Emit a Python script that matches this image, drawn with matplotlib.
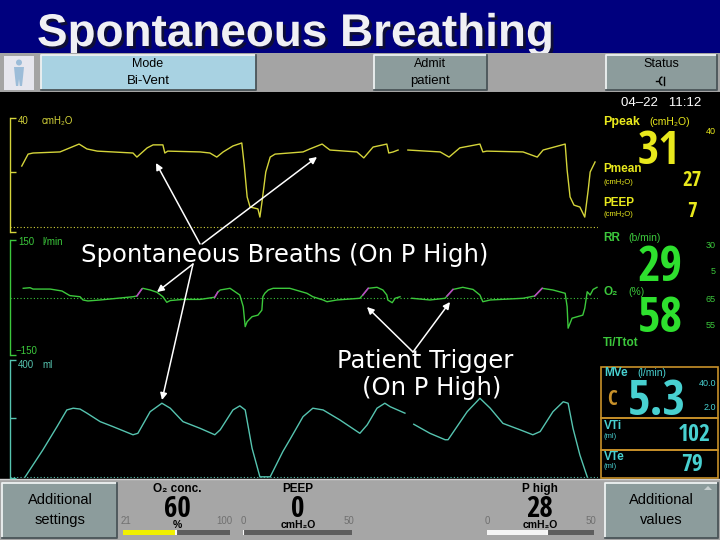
import numpy as np
import matplotlib
matplotlib.use('Agg')
import matplotlib.pyplot as plt
from matplotlib.patches import Rectangle, Circle, Arc, Polygon
import matplotlib.patheffects as pe
from matplotlib import font_manager as fm

# Airway pressure (cmH2O) vs time (s); NaN marks the sweep refresh gap
p_time = [0.24, 0.37, 0.47, 1.02, 1.41, 1.57, 1.78, 2.51, 2.59, 2.80, 2.92, 3.12, 3.16, 3.22,
          3.88, 4.08, 4.22, 4.35, 4.55, 4.73, 4.78, 4.84, 4.90, 5.06, 5.10, 5.14, 5.22, 5.31,
          5.41, 5.98, 6.12, 6.37, 6.47, 6.53, 7.08, 7.22, 7.41, 7.69, 7.73, 7.82, 7.92, 8.02,
          8.12, 8.78, 8.96, 9.18, 9.59, 9.65, 9.73, 10.47, 10.76, 10.88, 11.33, 11.37, 11.43,
          11.51, 11.63, 11.73, 11.80, 11.84, 11.94]
p_val = [22.3, 26.7, 27.1, 27.5, 30.4, 28.6, 27.8, 27.1, 25.6, 29.0, 30.1, 30.1, 27.1, 27.8,
         27.5, 27.1, 25.6, 27.5, 29.7, 30.8, 22.7, 10.9, 7.2, 6.5, 3.5, 8.7, 20.1, 25.6,
         26.7, 27.5, 28.6, 30.4, 29.0, 28.2, 27.5, 25.3, 29.3, 30.4, 27.1, 27.5, 28.2, np.nan,
         28.2, 27.5, 25.6, 29.0, 30.4, 27.5, 27.8, 27.5, 25.6, 28.2, 30.4, 20.8, 10.9,
         7.9, 7.2, 3.5, 13.5, 20.1, 23.8]

# Flow (l/min) vs time (s)
f_time = [0.27, 0.41, 0.47, 0.82, 1.06, 1.22, 1.43, 1.49, 1.59, 1.84, 2.51, 2.59, 2.69, 2.71,
          2.86, 3.00, 3.12, 3.20, 3.27, 3.53, 3.88, 4.14, 4.18, 4.24, 4.29, 4.49, 4.69, 4.76,
          4.80, 4.84, 4.94, 5.06, 5.14, 5.16, 5.20, 5.27, 5.37, 5.71, 6.06, 6.18, 6.39, 6.47,
          6.67, 7.14, 7.20, 7.31, 7.49, 7.61, 7.69, 7.71, 7.80, 7.86, 7.96, 8.08, 8.20, 8.57,
          8.88, 8.92, 9.04, 9.24, 9.45, 9.59, 9.65, 9.80, 10.47, 10.71, 10.86, 11.08, 11.33,
          11.37, 11.39, 11.47, 11.69, 11.73, 11.78, 11.84, 11.90, 11.98]
f_val = [24, 25.6, 22, 22, 17, 5, 2, -6.5, -9, -6.5, 2, 4, 22, 24,
         19.6, 13.6, 2, -12.5, -8, -5, -5, 0, 1, 14, 19.6, 24, 6.5, -24,
         -76, -63, -50, -46, -33, 2, 11, 19.6, 24, 24, 11, 2, -6.5, -11,
         -6.5, -2, 6.5, 24, 26.6, 19.6, 6.5, -6.5, -13.6, -2, 2, np.nan, -2, -6.5,
         -2, 4, 21, 26.6, 21, 6.5, -11, -6.5, -2, 4, 24, 19.6, 11,
         -24, -80, -54, -46, -28, 15, 6.5, 21, 26.6]
# patient-triggered breath onsets (start, end in s), shown in magenta
trig_start = [2.59, 4.18, 7.20, 8.92, 10.71]
trig_end = [2.69, 4.24, 7.31, 9.04, 10.86]

# Volume (ml) vs time (s)
v_time = [0.31, 0.67, 0.96, 1.16, 1.29, 1.43, 1.57, 1.84, 2.10, 2.51, 2.61, 2.86, 3.10, 3.27,
          3.53, 3.88, 4.18, 4.29, 4.55, 4.69, 4.80, 4.94, 5.10, 5.31, 5.57, 5.71, 5.98, 6.18,
          6.39, 6.73, 7.14, 7.29, 7.49, 7.65, 7.76, 8.06, 8.15, 8.24, 8.57, 8.88, 8.94, 9.33,
          9.59, 9.80, 10.06, 10.41, 10.67, 10.82, 11.08, 11.29, 11.39, 11.49, 11.63, 11.78]
v_val = [0, 92, 172, 229, 235, 232, 218, 189, 172, 144, 149, 223, 252, 235,
         189, 166, 144, 161, 229, 243, 229, 98, 0, 0, 87, 127, 206, 235,
         229, 195, 149, 178, 235, 252, 240, 218, np.nan, 180, 149, 127, 127, 223,
         269, 235, 183, 161, 144, 155, 223, 257, 252, 166, 75, 0]

# Monitored values (right column)
ppeak, ppeak_hi = 31, 40
pmean, peep_meas = 27, 7
rr, rr_hi, rr_lo = 29, 30, 5
o2, o2_hi, o2_lo = 58, 65, 55
mve, mve_hi, mve_lo = 5.3, 40.0, 2.0
vti, vte = 102, 79

# Settings (bottom bar)
set_names = ['O\u2082 conc.', 'PEEP', 'P high']
set_vals = [60, 0, 28]
set_min = [21, 0, 0]
set_max = [100, 50, 50]
set_units = ['%', 'cmH\u2082O', 'cmH\u2082O']

# ---------------- fonts ----------------
W, H = 720, 540
SANS = ['Liberation Sans', 'DejaVu Sans']
VERD = ['DejaVu Sans']


def find_narrow():
    best, best_score = None, -1
    for f in fm.fontManager.ttflist:
        nm = f.name.lower()
        st = str(f.stretch).lower()
        if not ('narrow' in nm or 'condensed' in nm or 'condensed' in st):
            continue
        if 'mono' in nm or ('serif' in nm and 'sans' not in nm):
            continue
        w = f.weight
        if not isinstance(w, (int, float)):
            w = {'bold': 700, 'normal': 400, 'regular': 400}.get(str(w).lower(), 400)
        score = 0
        if 600 <= w <= 800:
            score += 4
        if str(f.style).lower() == 'normal':
            score += 2
        if 'liberation' in nm or 'roboto' in nm or 'open sans' in nm or 'noto' in nm:
            score += 1
        if score > best_score:
            best, best_score = f, score
    return best


_nf = find_narrow()
if _nf is not None:
    NARROW_FP = fm.FontProperties(fname=_nf.fname)
    NSCALE = 0.92 if 'dejavu' in _nf.name.lower() else 1.0
else:
    NARROW_FP = fm.FontProperties(family=SANS, weight='bold')
    NSCALE = 0.82

YEL = '#e8e81c'
YEL_W = '#d4d43a'
GRN = '#2ee02e'
GRN_W = '#3cc83c'
TEAL = '#48d0d0'
TEAL_W = '#56c4b0'
ORG = '#c8912a'
MAG = '#c040c8'

fig = plt.figure(figsize=(7.2, 5.4), dpi=100, facecolor='black')


def fbox(x0, y0, x1, y1):
    return [x0 / W, 1 - y1 / H, (x1 - x0) / W, (y1 - y0) / H]


bg = fig.add_axes([0, 0, 1, 1], zorder=0)
bg.set_xlim(0, W)
bg.set_ylim(H, 0)
bg.axis('off')


def rect(ax, x0, y0, x1, y1, fc, ec='none', lw=0, z=1):
    ax.add_patch(Rectangle((x0, y0), x1 - x0, y1 - y0, facecolor=fc,
                           edgecolor=ec, linewidth=lw, zorder=z))


def button(ax, x0, y0, x1, y1, fc):
    rect(ax, x0, y0, x1, y1, fc, z=3)
    ax.plot([x0, x0, x1], [y1, y0, y0], color='#eef2f2', lw=1.3, zorder=4)
    ax.plot([x0, x1, x1], [y1, y1, y0], color='#4a5458', lw=1.3, zorder=4)


# background blocks
rect(bg, 0, 0, W, H, 'black', z=0)
rect(bg, 0, 0, W, 53, '#00007e', z=1)
bg.text(37, 46, 'Spontaneous Breathing', fontsize=33, fontweight='bold', family=SANS,
        color='#f0f0f4', va='baseline', ha='left', zorder=2,
        path_effects=[pe.withSimplePatchShadow(offset=(2, -2), shadow_rgbFace='#101030', alpha=0.9)])
rect(bg, 0, 53, W, 92, '#a4a4a4', z=2.5)

# top buttons
rect(bg, 4, 56, 34, 90, '#e6e6ee', z=3)
bg.add_patch(Circle((19, 62.5), 3.0, facecolor='#9cbcd8', zorder=4))
bg.add_patch(Polygon([[14, 67], [24, 67], [23, 77], [22, 86], [19.8, 86], [19, 79],
                      [18.2, 86], [16, 86], [15, 77]], closed=True, facecolor='#9cbcd8', zorder=4))
button(bg, 41, 55, 256, 90, '#a8d2e2')
button(bg, 374, 55, 487, 90, '#8c9c9c')
button(bg, 606, 55, 717, 90, '#8c9c9c')

# bottom bar
rect(bg, 0, 479, W, H, '#a6a6a6', z=1)
bg.plot([0, W], [479, 479], color='#d0d0d0', lw=1, zorder=2)
button(bg, 2, 483, 117, 538, '#8c9c9c')
button(bg, 605, 483, 718, 538, '#8c9c9c')
bg.add_patch(Polygon([[704, 490], [712, 490], [708, 486]], closed=True,
                     facecolor='#c8d0d0', zorder=5))

# orange boxes on the right
for (y0, y1) in [(367, 418), (418, 450), (450, 478)]:
    rect(bg, 601, y0, 718, y1, 'none', ec=ORG, lw=1.2, z=3)

# ---------------- waveform panels ----------------


def wave_axes(y0, y1, ylim, color, ticks):
    ax = fig.add_axes(fbox(10, y0, 598, y1), zorder=2)
    ax.set_facecolor('none')
    ax.set_xlim(0, 12)
    ax.set_ylim(*ylim)
    for s in ['top', 'right', 'bottom']:
        ax.spines[s].set_visible(False)
    ax.spines['left'].set_color(color)
    ax.spines['left'].set_linewidth(1.0)
    ax.set_xticks([])
    ax.set_yticks(ticks)
    ax.set_yticklabels([])
    ax.tick_params(axis='y', direction='in', length=4, width=1, color=color)
    ax.axhline(0, color=color, ls=(0, (1, 2)), lw=0.8)
    return ax


axp = wave_axes(118, 232, (-2, 40), YEL_W, [-2, 20, 40])
axp.plot(p_time, p_val, color=YEL_W, lw=1.0)

axf = wave_axes(240, 355, (-150, 150), GRN_W, [-150, 150])
axf.plot(f_time, f_val, color=GRN_W, lw=1.0)
ft = np.array(f_time)
fv = np.array(f_val, dtype=float)
for s, e in zip(trig_start, trig_end):
    m = (ft >= s - 1e-9) & (ft <= e + 1e-9)
    axf.plot(ft[m], fv[m], color=MAG, lw=1.1)

axv = wave_axes(360, 478, (-4, 400), TEAL_W, [-4, 200, 400])
axv.plot(v_time, v_val, color=TEAL_W, lw=1.0, clip_on=False)

# ---------------- overlay text ----------------
ov = fig.add_axes([0, 0, 1, 1], zorder=5)
ov.patch.set_visible(False)
ov.set_xlim(0, W)
ov.set_ylim(H, 0)
ov.axis('off')


def T(x, y, s, size, color, ha='left', va='center', weight='normal', fam=SANS, **kw):
    ov.text(x, y, s, fontsize=size, color=color, ha=ha, va=va, fontweight=weight,
            family=fam, **kw)


def N(x, y, s, size, color, ha='center'):
    fp = NARROW_FP.copy()
    fp.set_size(size * NSCALE)
    ov.text(x, y, s, fontproperties=fp, color=color, ha=ha, va='baseline')


# top buttons text
T(148, 64, 'Mode', 9, 'black', ha='center')
T(148, 81, 'Bi-Vent', 9.5, 'black', ha='center')
T(430, 64, 'Admit', 9, 'black', ha='center')
T(430, 81, 'patient', 9.5, 'black', ha='center')
T(661, 64, 'Status', 9, 'black', ha='center')
ov.plot([656, 659], [81, 81], color='black', lw=1)
ov.add_patch(Arc((662.5, 81), 6, 8, theta1=90, theta2=270, color='black', lw=1))
ov.plot([664, 664], [77, 85], color='black', lw=1)

# waveform labels
T(18, 121, '40', 7, YEL_W)
T(42, 121, 'cmH\u2082O', 7, YEL_W)
T(18, 242, '150', 7, GRN_W)
T(42, 242, 'l/min', 7, GRN_W)
T(16, 351, '\u2212150', 7, GRN_W)
T(18, 365, '400', 7, TEAL_W)
T(42, 365, 'ml', 7, TEAL_W)

# right column (big numbers placed on their baselines)
T(661, 103, '04\u201322   11:12', 9.5, 'white', ha='center')
T(603, 122, 'Ppeak', 9, YEL, weight='bold')
T(649, 122, '(cmH\u2082O)', 7.5, YEL)
T(716, 132, str(ppeak_hi), 6.5, YEL, ha='right')
N(659, 164, str(ppeak), 33, YEL)
T(603, 169, 'Pmean', 8.5, YEL, weight='bold')
T(603, 182, '(cmH\u2082O)', 5.5, YEL)
N(692, 186, str(pmean), 15, YEL)
T(603, 203, 'PEEP', 8.5, YEL, weight='bold')
T(603, 215, '(cmH\u2082O)', 5.5, YEL)
N(692, 217, str(peep_meas), 15, YEL)
T(603, 238, 'RR', 8.5, GRN_W, weight='bold')
T(628, 238, '(b/min)', 7.5, GRN_W)
T(716, 246, str(rr_hi), 6.5, GRN_W, ha='right')
T(716, 271, str(rr_lo), 6.5, GRN_W, ha='right')
N(660, 281, str(rr), 35, GRN)
T(603, 292, 'O\u2082', 8.5, GRN_W, weight='bold')
T(628, 292, '(%)', 7.5, GRN_W)
T(716, 300, str(o2_hi), 6.5, GRN_W, ha='right')
T(716, 325, str(o2_lo), 6.5, GRN_W, ha='right')
N(660, 332, str(o2), 35, GRN)
T(603, 343, 'Ti/Ttot', 8.5, GRN_W, weight='bold')

T(604, 373, 'MVe', 8.5, TEAL, weight='bold')
T(637, 373, '(l/min)', 7.5, TEAL)
N(612, 405, 'C', 15, ORG)
N(657, 415, f'{mve:.1f}', 35, TEAL)
T(716, 383, f'{mve_hi:.1f}', 6.5, TEAL, ha='right')
T(716, 408, f'{mve_lo:.1f}', 6.5, TEAL, ha='right')
T(604, 426, 'VTi', 8.5, TEAL, weight='bold')
T(604, 437, '(ml)', 5.5, TEAL)
N(694, 441, str(vti), 17, TEAL)
T(604, 457, 'VTe', 8.5, TEAL, weight='bold')
T(604, 467, '(ml)', 5.5, TEAL)
N(692, 471, str(vte), 17, TEAL)

# bottom bar text and setting bars
T(60, 510, 'Additional\nsettings', 10.5, 'black', ha='center', linespacing=1.5)
T(661, 510, 'Additional\nvalues', 10.5, 'black', ha='center', linespacing=1.5)
centers = [177, 298, 540]
bar_x = [(123, 230), (243, 352), (487, 594)]
fills = ['#f0f000', '#f4f4f4', '#f4f4f4']
for i in range(3):
    cx = centers[i]
    x0, x1 = bar_x[i]
    T(cx, 489, set_names[i], 8.5, 'black', ha='center', weight='bold')
    N(cx, 517, str(set_vals[i]), 21, 'black')
    T(x0 - 2, 521, str(set_min[i]), 7, '#707070', ha='left')
    T(x1 + 2, 521, str(set_max[i]), 7, '#707070', ha='right')
    T(cx, 524.5, set_units[i], 7.5, 'black', ha='center', weight='bold')
    bax = fig.add_axes(fbox(x0, 530, x1, 535), zorder=3)
    bax.set_facecolor('#5e5e5e')
    bax.set_xlim(set_min[i], set_max[i])
    bax.set_ylim(-0.5, 0.5)
    bax.barh(0, set_vals[i] - set_min[i], left=set_min[i], height=1, color=fills[i])
    bax.axvline(set_vals[i], color='#f8f8f8', lw=1.5)
    bax.set_xticks([])
    bax.set_yticks([])
    for s in bax.spines.values():
        s.set_visible(False)

# annotations
T(285, 255, 'Spontaneous Breaths (On P High)', 17.5, 'white', ha='center', fam=VERD)
T(425, 361, 'Patient Trigger', 17.5, 'white', ha='center', fam=VERD)
T(432, 388, '(On P High)', 17.5, 'white', ha='center', fam=VERD)

arrow = dict(arrowstyle='-|>', color='white', lw=1.1, mutation_scale=10,
             shrinkA=0, shrinkB=0)
for tail, head in [((200, 244), (156, 163)), ((202, 244), (317, 157)),
                   ((193, 264), (157, 292)), ((193, 264), (162, 400)),
                   ((413, 352), (367, 307)), ((413, 352), (450, 302))]:
    ov.annotate('', xy=head, xytext=tail, arrowprops=arrow)

fig.savefig('out.png', dpi=100, facecolor='black')
